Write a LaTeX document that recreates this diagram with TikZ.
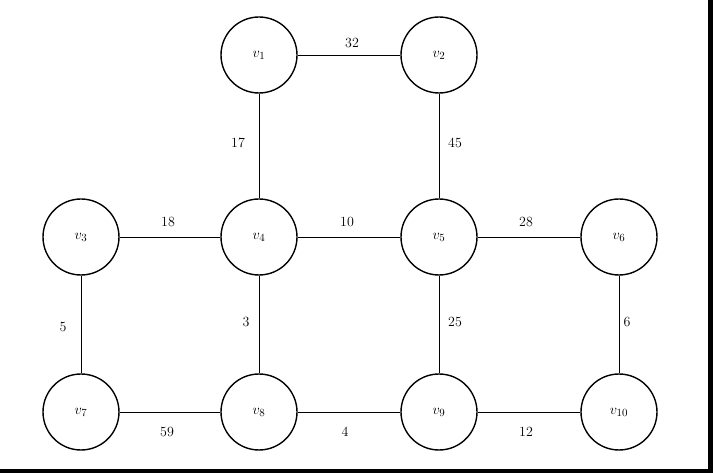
\documentclass[tikz,border=0pt]{standalone}
\begin{document}
\begin{tikzpicture}[x=1pt,y=-1pt,
 vtx/.style={draw,circle,line width=1.4pt,minimum size=76pt,inner sep=0pt,font=\fontsize{15}{18}\selectfont},
 edge/.style={line width=0.9pt},
 wt/.style={font=\fontsize{14}{17}\selectfont}]
\fill[white] (0,0) rectangle (713,473);
\fill[black] (0,469) rectangle (713,473);
\fill[black] (708,0) rectangle (713,473);
\node[vtx] (v1) at (259,55) {$v_1$};
\node[vtx] (v2) at (439,55) {$v_2$};
\node[vtx] (v3) at (81,237) {$v_3$};
\node[vtx] (v4) at (259,237) {$v_4$};
\node[vtx] (v5) at (439,237) {$v_5$};
\node[vtx] (v6) at (619,237) {$v_6$};
\node[vtx] (v7) at (81,412) {$v_7$};
\node[vtx] (v8) at (259,412) {$v_8$};
\node[vtx] (v9) at (439,412) {$v_9$};
\node[vtx] (v10) at (619,412) {$v_{10}$};
\draw[edge] (v1)--(v2); \draw[edge] (v1)--(v4); \draw[edge] (v2)--(v5);
\draw[edge] (v3)--(v4); \draw[edge] (v4)--(v5); \draw[edge] (v5)--(v6);
\draw[edge] (v3)--(v7); \draw[edge] (v4)--(v8); \draw[edge] (v5)--(v9); \draw[edge] (v6)--(v10);
\draw[edge] (v7)--(v8); \draw[edge] (v8)--(v9); \draw[edge] (v9)--(v10);
\node[wt] (w1) at (352,43) {32};
\node[wt] (w2) at (238,143) {17};
\node[wt] (w3) at (455,143) {45};
\node[wt] (w4) at (168,222) {18};
\node[wt] (w5) at (347,222) {10};
\node[wt] (w6) at (526,222) {28};
\node[wt] (w7) at (63,327) {5};
\node[wt] (w8) at (246,322) {3};
\node[wt] (w9) at (455,322) {25};
\node[wt] (w10) at (627,322) {6};
\node[wt] (w11) at (167,432) {59};
\node[wt] (w12) at (345,432) {4};
\node[wt] (w13) at (526,432) {12};
\end{tikzpicture}
\end{document}
